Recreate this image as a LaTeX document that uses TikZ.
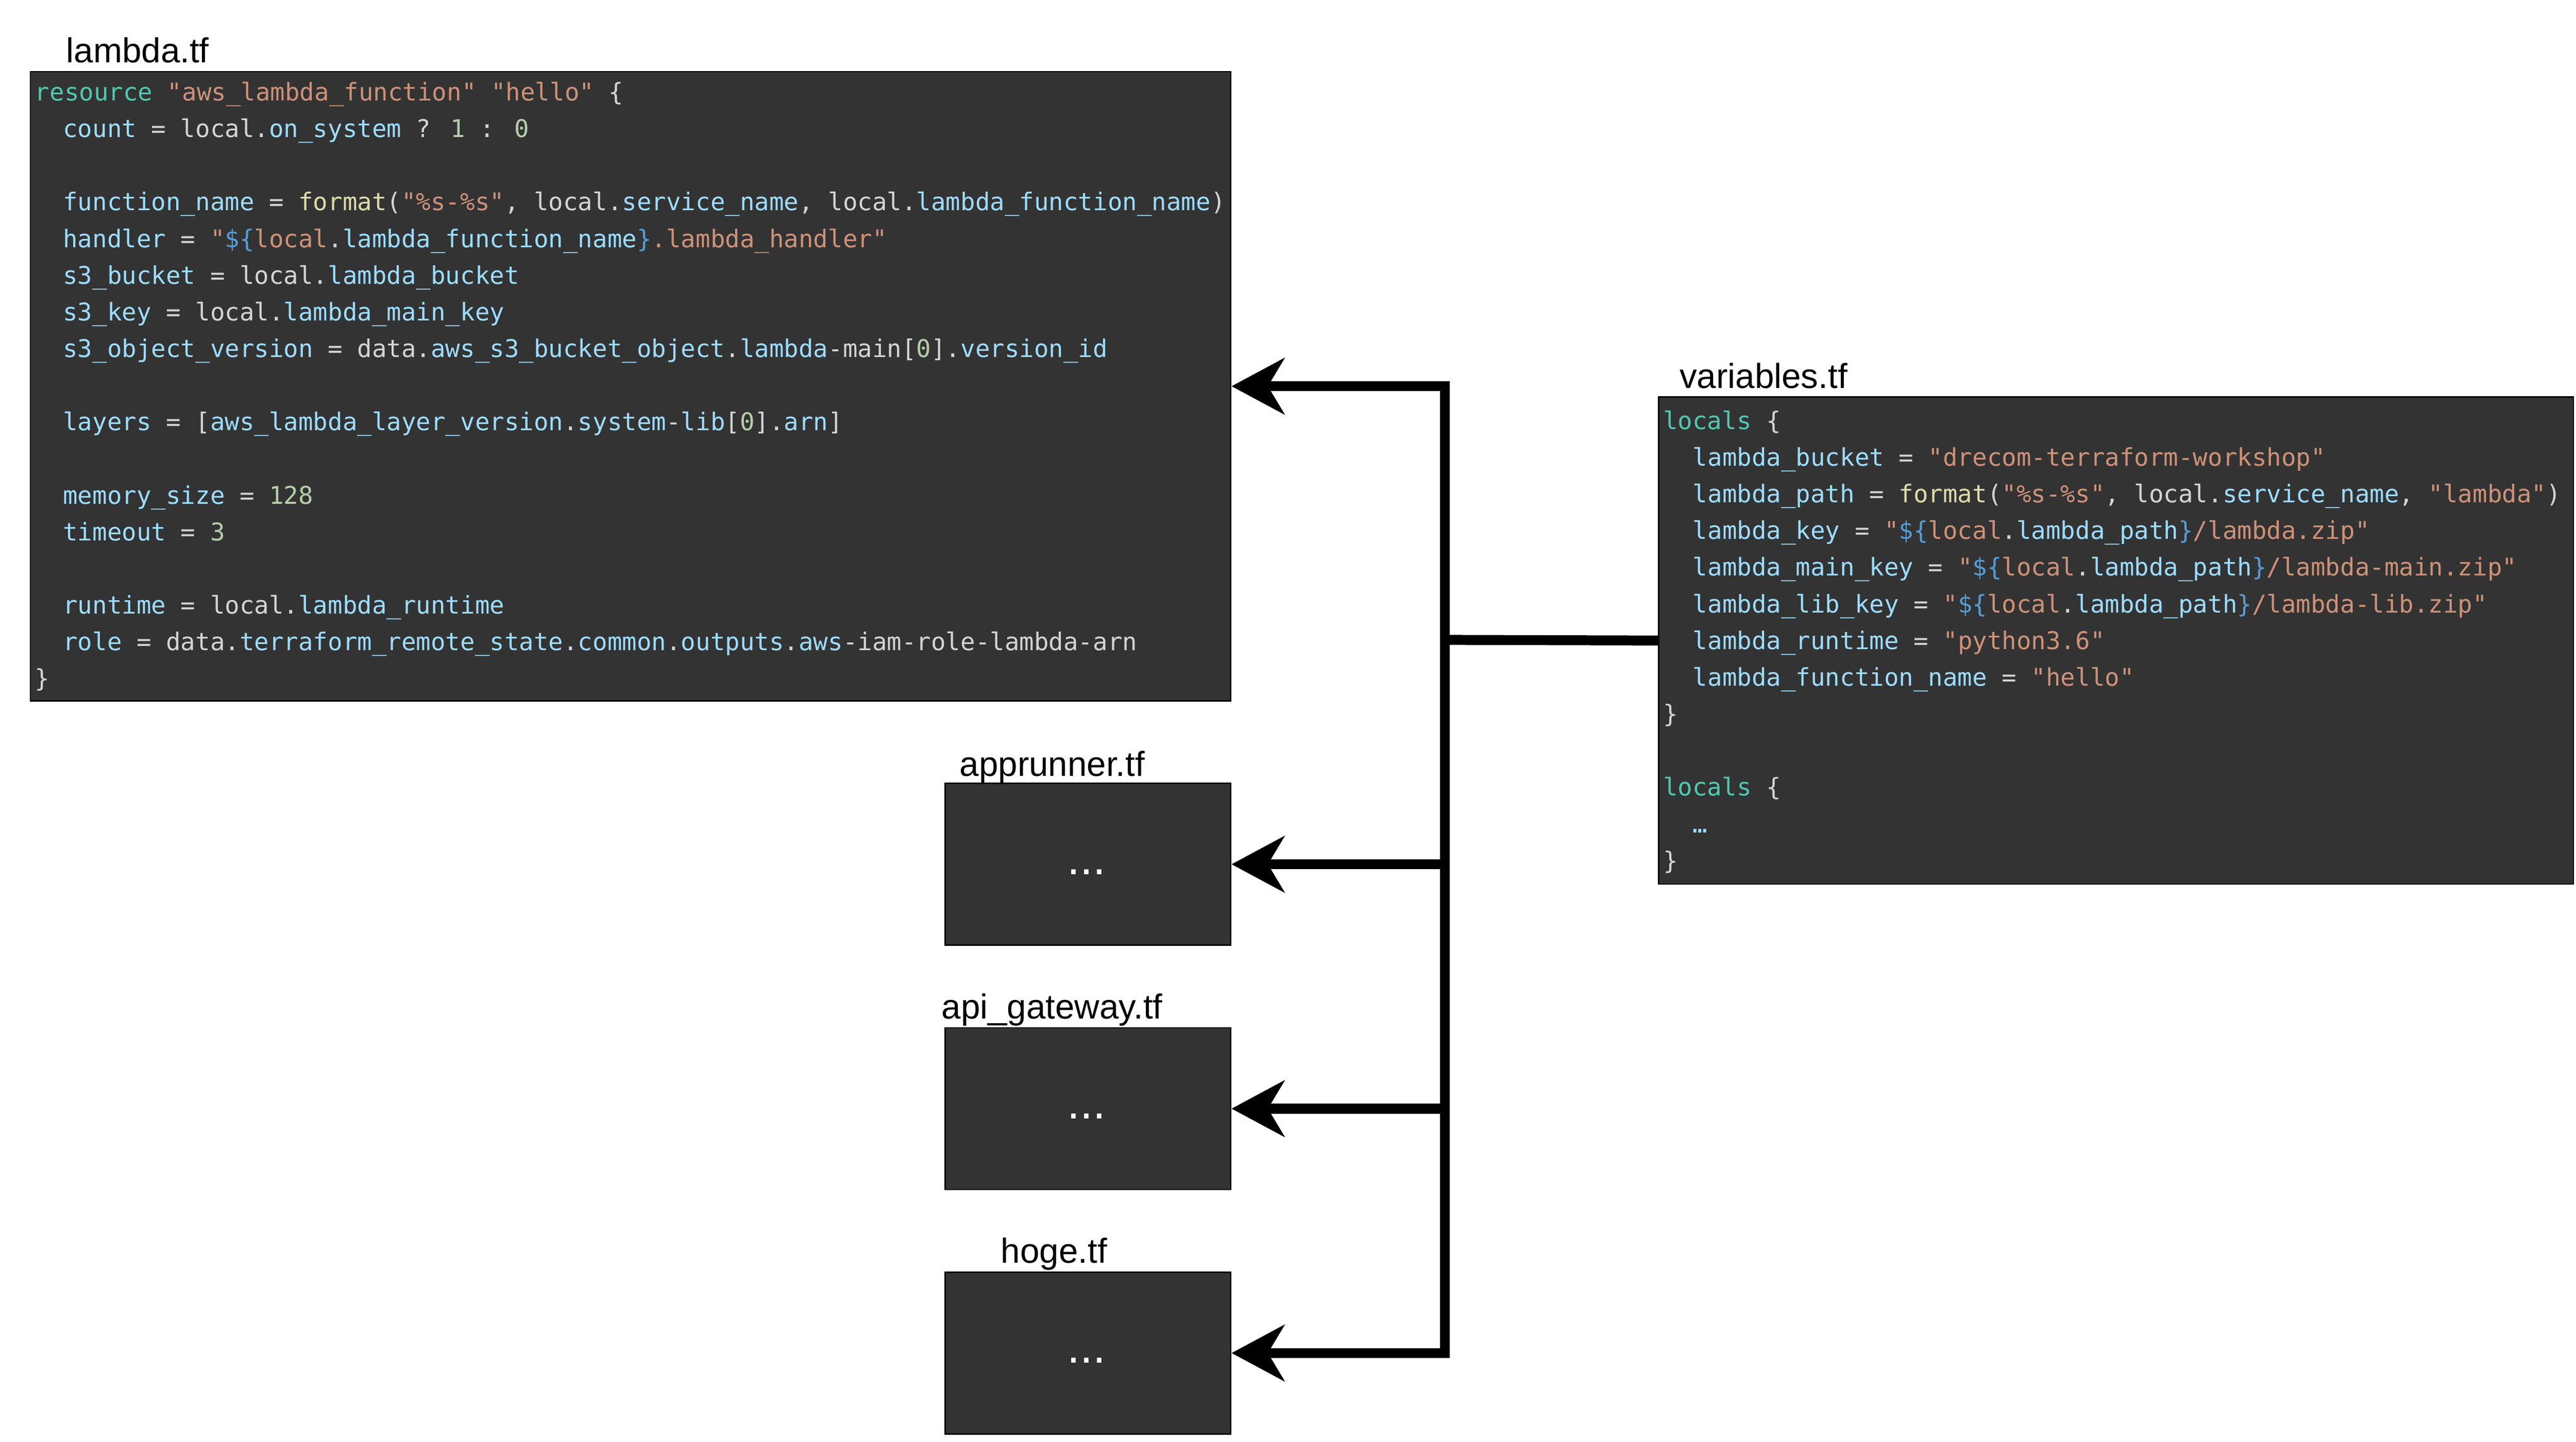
\documentclass[tikz,border=0pt]{standalone}
\usepackage{fontspec}
\setmainfont{Liberation Sans}
\newfontfamily\codefont{DejaVu Sans Mono}
\usetikzlibrary{arrows.meta}
\definecolor{bgc}{HTML}{333333}
\definecolor{txc}{HTML}{D4D4D4}
\definecolor{kwc}{HTML}{4EC9B0}
\definecolor{stc}{HTML}{CE9178}
\definecolor{idc}{HTML}{9CDCFE}
\definecolor{fnc}{HTML}{DCDCAA}
\definecolor{nmc}{HTML}{B5CEA8}
\definecolor{blc}{HTML}{569CD6}
\newcommand{\cK}[1]{\textcolor{kwc}{#1}}
\newcommand{\cS}[1]{\textcolor{stc}{#1}}
\newcommand{\cI}[1]{\textcolor{idc}{#1}}
\newcommand{\cF}[1]{\textcolor{fnc}{#1}}
\newcommand{\cN}[1]{\textcolor{nmc}{#1}}
\newcommand{\cB}[1]{\textcolor{blc}{#1}}
\begin{document}
\begin{tikzpicture}[x=1pt,y=-1pt,
  box/.style={draw=black,line width=0.8pt,fill=bgc,inner sep=0pt},
  code/.style={anchor=base west,inner sep=0pt,text=txc,font=\codefont\fontsize{14.8}{14.8}\selectfont},
  ttl/.style={anchor=base west,inner sep=0pt,font=\fontsize{21}{21}\selectfont},
  dots/.style={text=white,font=\fontsize{28}{28}\selectfont},
  arr/.style={line width=6pt,-{Stealth[length=32pt,width=34pt,inset=10pt]}},
  ln/.style={line width=6pt}]
\useasboundingbox (0,0) rectangle (1560,873.2);
% boxes
\node[box,minimum width=727pt,minimum height=381pt,anchor=north west] (lam) at (18,43) {};
\node[box,minimum width=554pt,minimum height=295pt,anchor=north west] (var) at (1004,240) {};
\node[box,minimum width=173pt,minimum height=98pt,anchor=north west] (app) at (572,474) {};
\node[box,minimum width=173pt,minimum height=98pt,anchor=north west] (api) at (572,622) {};
\node[box,minimum width=173pt,minimum height=98pt,anchor=north west] (hog) at (572,770) {};
\node[dots] (d1) at (658,528) {...};
\node[dots] (d2) at (658,676) {...};
\node[dots] (d3) at (658,824) {...};
% titles
\node[ttl] (t1) at (40,38) {lambda.tf};
\node[ttl] (t2) at (1017,235) {variables.tf};
\node[ttl] (t3) at (581,470) {apprunner.tf};
\node[ttl] (t4) at (570,617) {api\_gateway.tf};
\node[ttl] (t5) at (606,765) {hoge.tf};
% lambda code
\node[code] (l1) at (21,61) {\cK{resource} \cS{"aws\_lambda\_function"} \cS{"hello"} \{};
\node[code] (l2) at (38,83.2) {\cI{count} = local.\cI{on\_system} ? \cN{1} : \cN{0}};
\node[code] (l3) at (38,127.6) {\cI{function\_name} = \cF{format}(\cS{"\%s-\%s"}, local.\cI{service\_name}, local.\cI{lambda\_function\_name})};
\node[code] (l4) at (38,149.8) {\cI{handler} = \cS{"}\cB{\$\{}\cS{local}.\cI{lambda\_function\_name}\cB{\}}\cS{.lambda\_handler"}};
\node[code] (l5) at (38,172) {\cI{s3\_bucket} = local.\cI{lambda\_bucket}};
\node[code] (l6) at (38,194.2) {\cI{s3\_key} = local.\cI{lambda\_main\_key}};
\node[code] (l7) at (38,216.4) {\cI{s3\_object\_version} = data.\cI{aws\_s3\_bucket\_object}.\cI{lambda}-main[\cN{0}].\cI{version\_id}};
\node[code] (l8) at (38,260.8) {\cI{layers} = [\cI{aws\_lambda\_layer\_version}.\cI{system}-\cI{lib}[\cN{0}].\cI{arn}]};
\node[code] (l9) at (38,305.2) {\cI{memory\_size} = \cN{128}};
\node[code] (l10) at (38,327.4) {\cI{timeout} = \cN{3}};
\node[code] (l11) at (38,371.8) {\cI{runtime} = local.\cI{lambda\_runtime}};
\node[code] (l12) at (38,394) {\cI{role} = data.\cI{terraform\_remote\_state}.\cI{common}.\cI{outputs}.\cI{aws}-iam-role-lambda-arn};
\node[code] (l13) at (21,416.2) {\}};
% variables code
\node[code] (v1) at (1007,260) {\cK{locals} \{};
\node[code] (v2) at (1025,282.2) {\cI{lambda\_bucket} = \cS{"drecom-terraform-workshop"}};
\node[code] (v3) at (1025,304.4) {\cI{lambda\_path} = \cF{format}(\cS{"\%s-\%s"}, local.\cI{service\_name}, \cS{"lambda"})};
\node[code] (v4) at (1025,326.6) {\cI{lambda\_key} = \cS{"}\cB{\$\{}\cS{local}.\cI{lambda\_path}\cB{\}}\cS{/lambda.zip"}};
\node[code] (v5) at (1025,348.8) {\cI{lambda\_main\_key} = \cS{"}\cB{\$\{}\cS{local}.\cI{lambda\_path}\cB{\}}\cS{/lambda-main.zip"}};
\node[code] (v6) at (1025,371) {\cI{lambda\_lib\_key} = \cS{"}\cB{\$\{}\cS{local}.\cI{lambda\_path}\cB{\}}\cS{/lambda-lib.zip"}};
\node[code] (v7) at (1025,393.2) {\cI{lambda\_runtime} = \cS{"python3.6"}};
\node[code] (v8) at (1025,415.4) {\cI{lambda\_function\_name} = \cS{"hello"}};
\node[code] (v9) at (1007,437.6) {\}};
\node[code] (v10) at (1007,482) {\cK{locals} \{};
\node[code] (v11) at (1025,504.2) {\cI{…}};
\node[code] (v12) at (1007,526.4) {\}};
% connectors
\coordinate (j) at (875,387.5);
\draw[ln] (var.west) -- (j);
\draw[arr] (j) |- (lam.east);
\draw[arr] (j) |- (app.east);
\draw[arr] (j) |- (api.east);
\draw[arr] (j) |- (hog.east);
\end{tikzpicture}
\end{document}
